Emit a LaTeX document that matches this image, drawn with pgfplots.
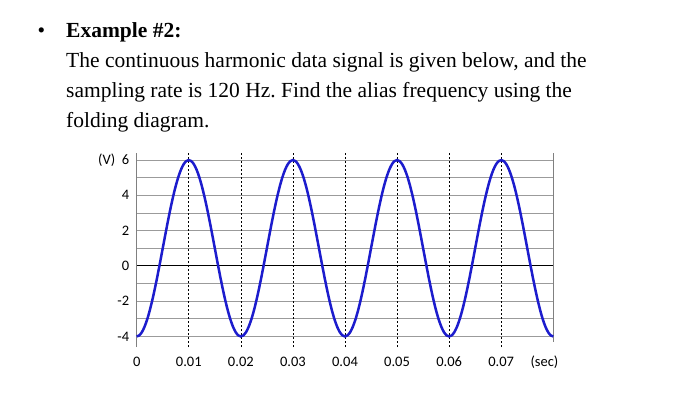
\documentclass[border=0pt]{standalone}
\usepackage{pgfplots}
\pgfplotsset{compat=1.18}
\usepackage{fontspec}
\setmainfont{Liberation Serif}
\newfontfamily\tickfont{Carlito}
\definecolor{wave}{RGB}{28,28,205}
\definecolor{gridgray}{RGB}{155,155,155}
\frenchspacing
\begin{document}
\frenchspacing
\begin{tikzpicture}
\path[use as bounding box, fill=white] (0,0) rectangle (700pt,-394pt);
\node[anchor=base, font=\fontsize{21.5pt}{30pt}\selectfont] at (41.5pt,-37pt) {•};
\node[anchor=base west, inner sep=0pt, font=\fontsize{21.5pt}{30pt}\selectfont\bfseries] at (66pt,-37pt) {Example \#2:};
\node[anchor=base west, inner sep=0pt, font=\fontsize{21.5pt}{30pt}\selectfont] at (66pt,-67pt) {The continuous harmonic data signal is given below, and the};
\node[anchor=base west, inner sep=0pt, font=\fontsize{21.5pt}{30pt}\selectfont] at (66pt,-97pt) {sampling rate is 120 Hz.\ Find the alias frequency using the};
\node[anchor=base west, inner sep=0pt, font=\fontsize{21.5pt}{30pt}\selectfont] at (66pt,-127pt) {folding diagram.};
\begin{axis}[
  scale only axis, width=416.6pt, height=194pt,
  at={(136.7pt,-347pt)}, anchor=south west,
  xmin=0, xmax=0.08, ymin=-4.6, ymax=6.4,
  axis line style={draw=none},
  scaled x ticks=false, scaled y ticks=false,
  /pgf/number format/assume math mode=true,
  xtick={0,0.01,0.02,0.03,0.04,0.05,0.06,0.07},
  xticklabels={0,0.01,0.02,0.03,0.04,0.05,0.06,0.07},
  ytick={-4,-2,0,2,4,6},
  yticklabels={-4,-2,0,2,4,{(V)\ \ 6}},
  minor ytick={-3,-1,1,3,5},
  major tick length=0pt, minor tick length=0pt,
  ymajorgrids, yminorgrids,
  major grid style={gridgray, line width=0.8pt},
  minor grid style={gridgray, line width=0.8pt},
  tick label style={font=\tickfont\fontsize{14.5pt}{16pt}\selectfont},
  xticklabel style={anchor=base, yshift=-19pt},
  yticklabel style={xshift=-4pt},
  clip=false,
]
\draw[black, dash pattern=on 2pt off 2pt, line width=0.7pt]
  \foreach \xx in {0.01,0.02,0.03,0.04,0.05,0.06,0.07} {(axis cs:\xx,-4.6) -- (axis cs:\xx,6.4)};
\draw[black, line width=0.9pt] (axis cs:0,0) -- (axis cs:0.08,0);
\draw[gray, line width=1pt] (axis cs:0,-4.6) -- (axis cs:0,6.4);
\draw[gray, line width=1pt] (axis cs:0.08,-4.3) -- (axis cs:0.08,6.4);
\node[anchor=base, font=\tickfont\fontsize{14.5pt}{16pt}\selectfont, yshift=-19pt] at (axis cs:0.0783,-4.6) {(sec)};
\addplot[wave, line width=2.5pt, smooth] table {
x y
0.0000 -4
0.0005 -3.938
0.0010 -3.755
0.0015 -3.455
0.0020 -3.045
0.0025 -2.536
0.0030 -1.939
0.0035 -1.270
0.0040 -0.545
0.0045 0.218
0.0050 1
0.0055 1.782
0.0060 2.545
0.0065 3.270
0.0070 3.939
0.0075 4.536
0.0080 5.045
0.0085 5.455
0.0090 5.755
0.0095 5.938
0.0100 6
0.0105 5.938
0.0110 5.755
0.0115 5.455
0.0120 5.045
0.0125 4.536
0.0130 3.939
0.0135 3.270
0.0140 2.545
0.0145 1.782
0.0150 1
0.0155 0.218
0.0160 -0.545
0.0165 -1.270
0.0170 -1.939
0.0175 -2.536
0.0180 -3.045
0.0185 -3.455
0.0190 -3.755
0.0195 -3.938
0.0200 -4
0.0205 -3.938
0.0210 -3.755
0.0215 -3.455
0.0220 -3.045
0.0225 -2.536
0.0230 -1.939
0.0235 -1.270
0.0240 -0.545
0.0245 0.218
0.0250 1
0.0255 1.782
0.0260 2.545
0.0265 3.270
0.0270 3.939
0.0275 4.536
0.0280 5.045
0.0285 5.455
0.0290 5.755
0.0295 5.938
0.0300 6
0.0305 5.938
0.0310 5.755
0.0315 5.455
0.0320 5.045
0.0325 4.536
0.0330 3.939
0.0335 3.270
0.0340 2.545
0.0345 1.782
0.0350 1
0.0355 0.218
0.0360 -0.545
0.0365 -1.270
0.0370 -1.939
0.0375 -2.536
0.0380 -3.045
0.0385 -3.455
0.0390 -3.755
0.0395 -3.938
0.0400 -4
0.0405 -3.938
0.0410 -3.755
0.0415 -3.455
0.0420 -3.045
0.0425 -2.536
0.0430 -1.939
0.0435 -1.270
0.0440 -0.545
0.0445 0.218
0.0450 1
0.0455 1.782
0.0460 2.545
0.0465 3.270
0.0470 3.939
0.0475 4.536
0.0480 5.045
0.0485 5.455
0.0490 5.755
0.0495 5.938
0.0500 6
0.0505 5.938
0.0510 5.755
0.0515 5.455
0.0520 5.045
0.0525 4.536
0.0530 3.939
0.0535 3.270
0.0540 2.545
0.0545 1.782
0.0550 1
0.0555 0.218
0.0560 -0.545
0.0565 -1.270
0.0570 -1.939
0.0575 -2.536
0.0580 -3.045
0.0585 -3.455
0.0590 -3.755
0.0595 -3.938
0.0600 -4
0.0605 -3.938
0.0610 -3.755
0.0615 -3.455
0.0620 -3.045
0.0625 -2.536
0.0630 -1.939
0.0635 -1.270
0.0640 -0.545
0.0645 0.218
0.0650 1
0.0655 1.782
0.0660 2.545
0.0665 3.270
0.0670 3.939
0.0675 4.536
0.0680 5.045
0.0685 5.455
0.0690 5.755
0.0695 5.938
0.0700 6
0.0705 5.938
0.0710 5.755
0.0715 5.455
0.0720 5.045
0.0725 4.536
0.0730 3.939
0.0735 3.270
0.0740 2.545
0.0745 1.782
0.0750 1
0.0755 0.218
0.0760 -0.545
0.0765 -1.270
0.0770 -1.939
0.0775 -2.536
0.0780 -3.045
0.0785 -3.455
0.0790 -3.755
0.0795 -3.938
0.0800 -4
};
\end{axis}
\end{tikzpicture}
\end{document}
